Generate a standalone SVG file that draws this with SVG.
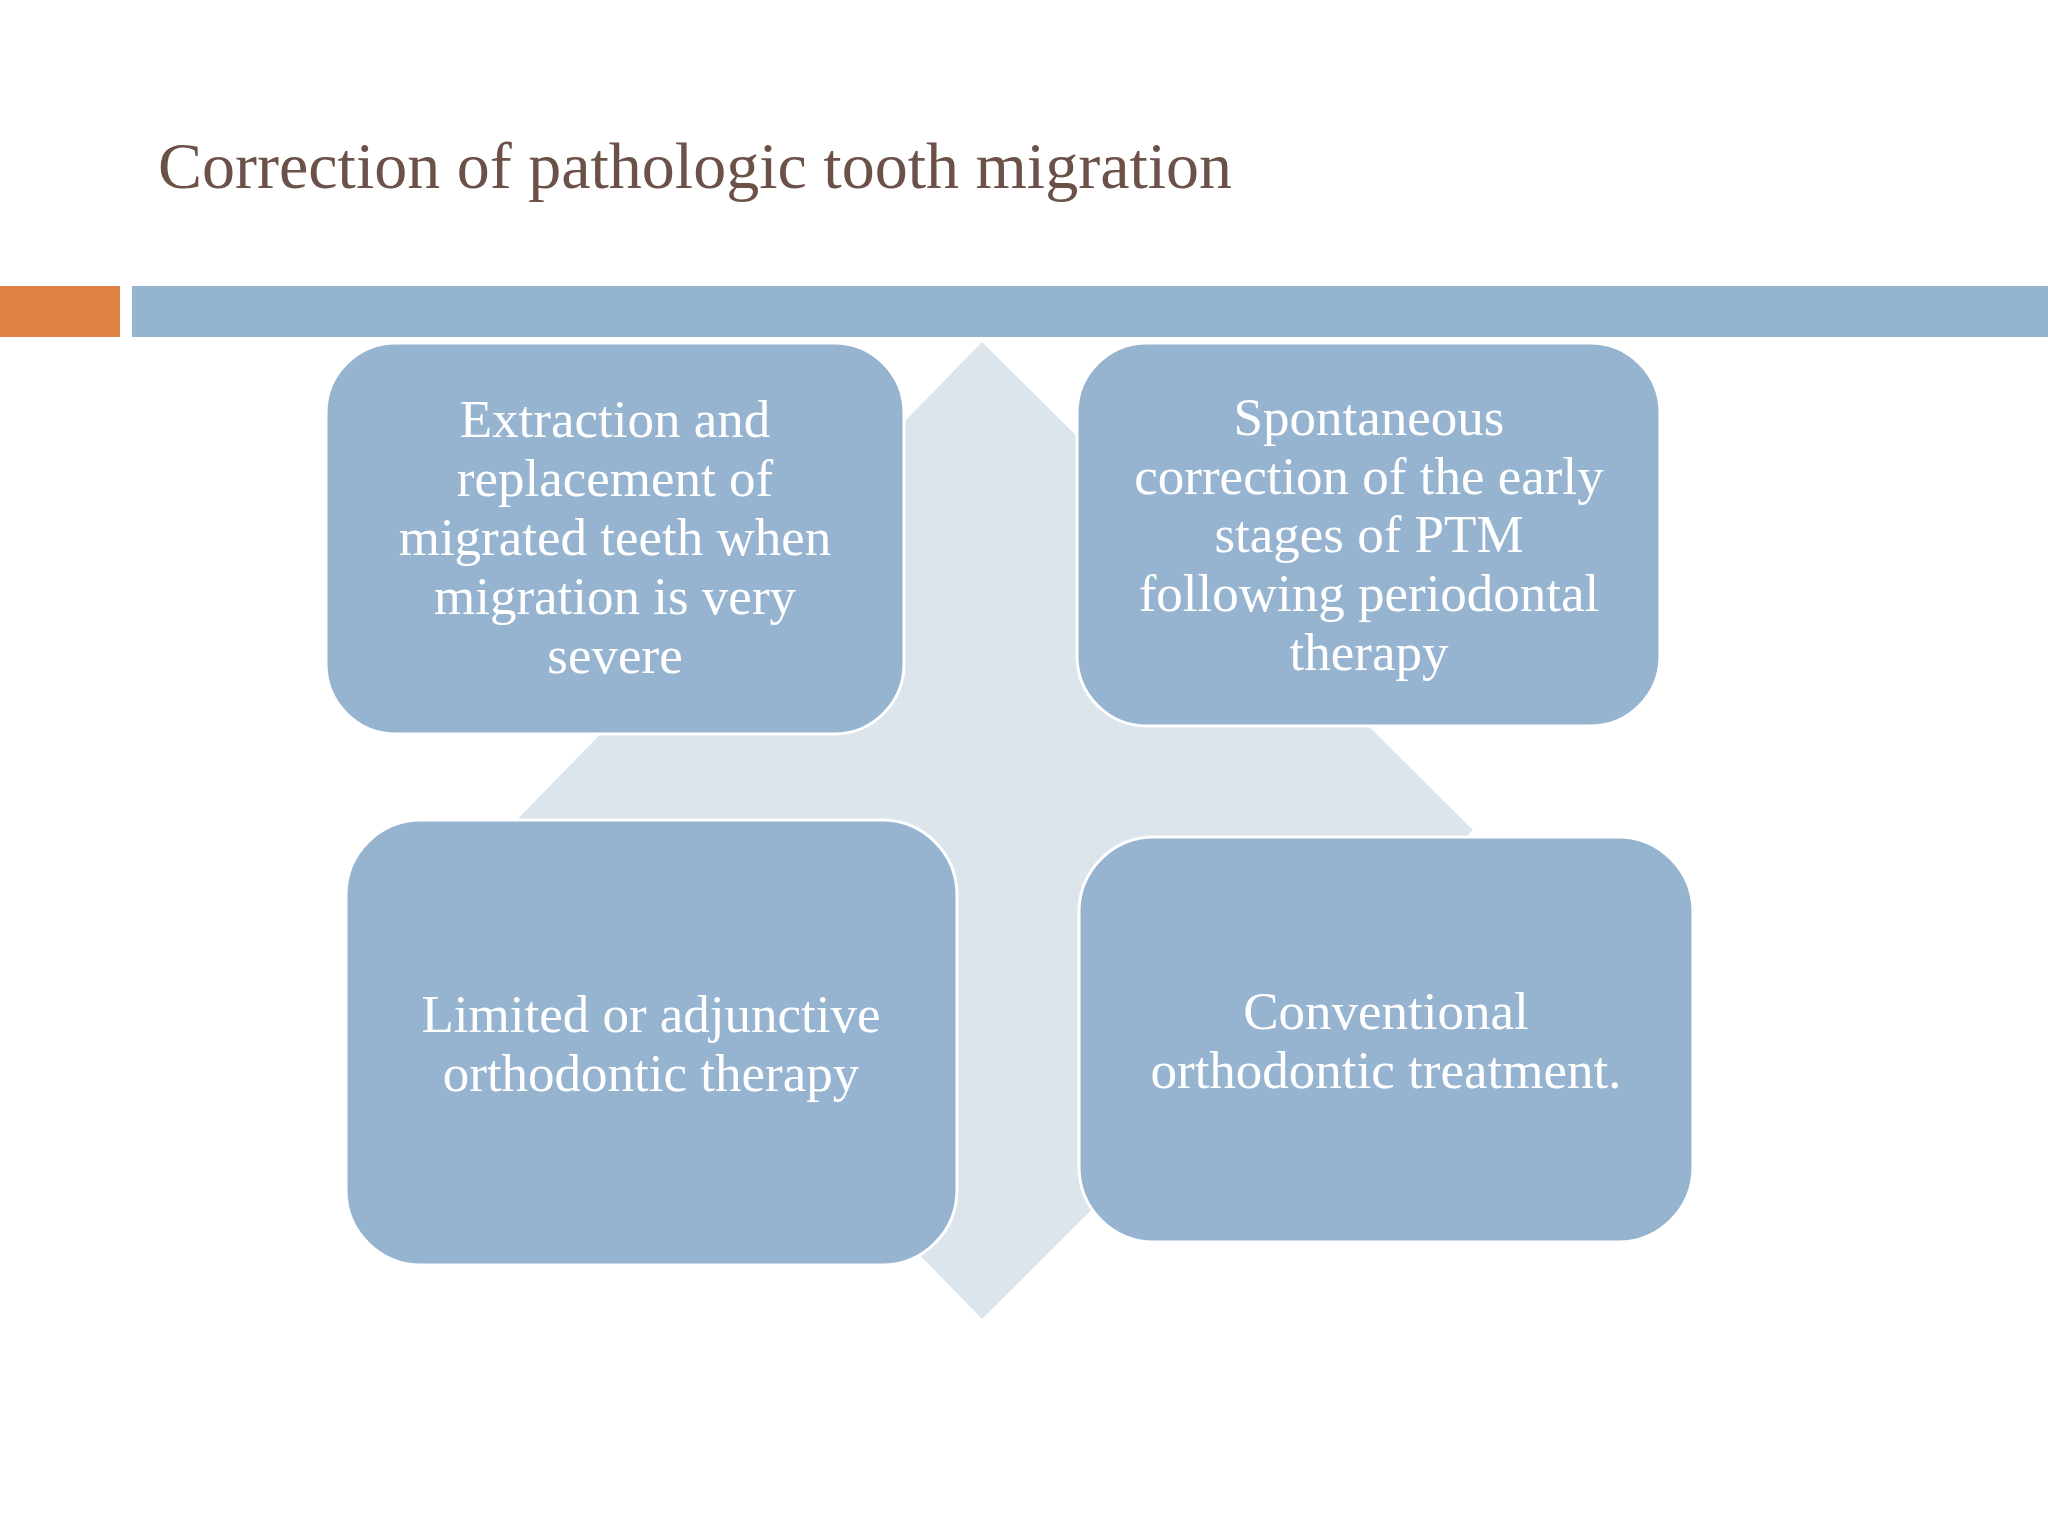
<svg xmlns="http://www.w3.org/2000/svg" width="2048" height="1536" viewBox="0 0 2048 1536">
<style>
.box{fill:#96B4D0;stroke:#fff;stroke-width:3}
.t{font-family:"Liberation Serif",serif;font-size:53px;fill:#fff;text-anchor:middle}
</style>
<rect width="2048" height="1536" fill="#fff"/>
<text x="158" y="188" font-family="Liberation Serif,serif" font-size="66" fill="#6B5148">Correction of pathologic tooth migration</text>
<rect x="0" y="286" width="120" height="51" fill="#DF8244"/>
<rect x="132" y="286" width="1916" height="51" fill="#95B4D0"/>
<g id="connectors"><polygon points="982,342 1473,830 982,1319 507,830" fill="#DCE4EC"/></g>
<g id="n1"><rect class="box" x="326" y="343" width="578" height="391" rx="70"/>
<text class="t"><tspan x="615" y="437">Extraction and</tspan><tspan x="615" y="496">replacement of</tspan><tspan x="615" y="555">migrated teeth when</tspan><tspan x="615" y="614">migration is very</tspan><tspan x="615" y="673">severe</tspan></text></g>
<g id="n2"><rect class="box" x="1077" y="343" width="583" height="383" rx="70"/>
<text class="t"><tspan x="1369" y="435">Spontaneous</tspan><tspan x="1369" y="494">correction of the early</tspan><tspan x="1369" y="552">stages of PTM</tspan><tspan x="1369" y="611">following periodontal</tspan><tspan x="1369" y="670">therapy</tspan></text></g>
<g id="n3"><rect class="box" x="346" y="820" width="611" height="445" rx="75"/>
<text class="t"><tspan x="651" y="1032">Limited or adjunctive</tspan><tspan x="651" y="1091">orthodontic therapy</tspan></text></g>
<g id="n4"><rect class="box" x="1079" y="837" width="614" height="405" rx="75"/>
<text class="t"><tspan x="1386" y="1029">Conventional</tspan><tspan x="1386" y="1088">orthodontic treatment.</tspan></text></g>
</svg>
